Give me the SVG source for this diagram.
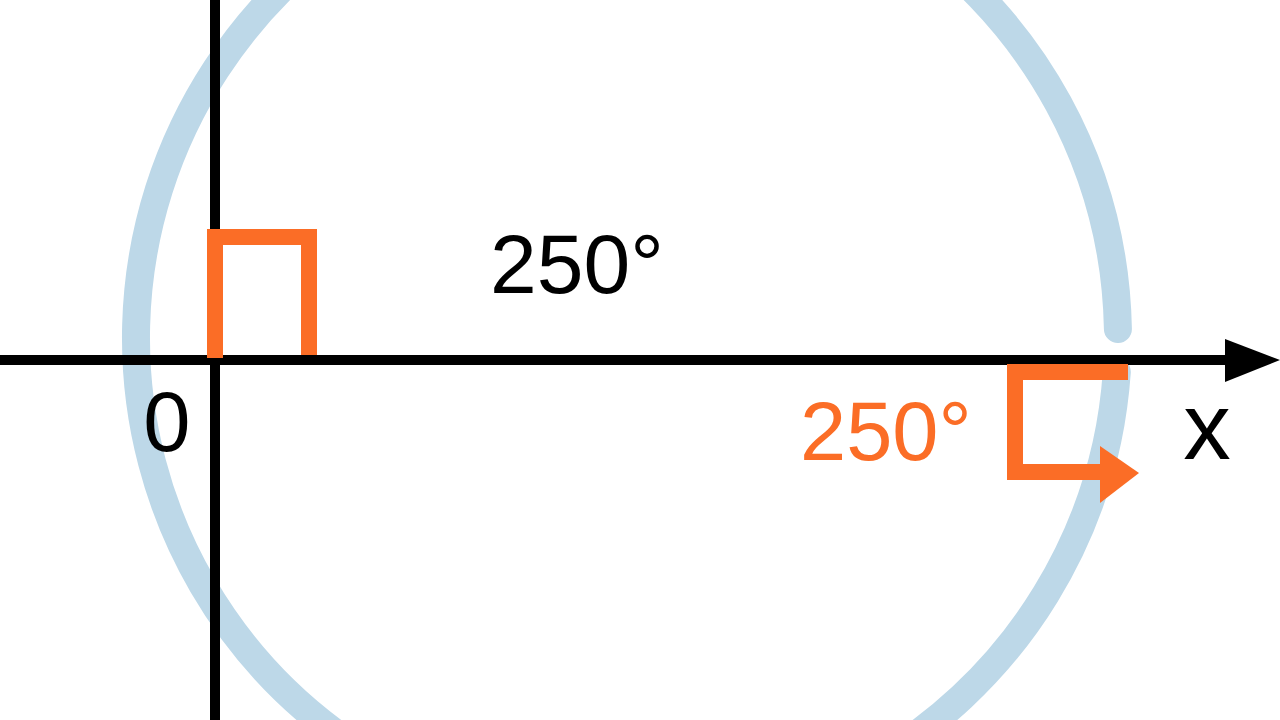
<svg xmlns="http://www.w3.org/2000/svg" width="1280" height="720" viewBox="0 0 1280 720">
  <style>
    .lbl { font-family: "Liberation Sans", Arial, sans-serif; }
    .ring { fill: none; stroke: #bdd8e8; stroke-width: 28; stroke-linecap: round; }
    .axis { fill: none; stroke: #000000; stroke-width: 10; }
    .mark { fill: none; stroke: #fb6d26; stroke-width: 16; stroke-linejoin: miter; }
  </style>
  <rect width="1280" height="720" fill="#ffffff"/>
  <g id="circle">
    <path class="ring" d="M1116.8,372 A491,491 0 1 1 1117.9,329"/>
  </g>
  <g id="connectors">
    <line class="axis" x1="215" y1="0" x2="215" y2="720"/>
    <line class="axis" x1="0" y1="360" x2="1228" y2="360"/>
    <polygon points="1225,339 1280,360 1225,382" fill="#000000"/>
  </g>
  <g id="angle-mark-origin">
    <path class="mark" d="M215,358 V237 H309 V355"/>
  </g>
  <g id="angle-mark-arrow">
    <path class="mark" d="M1128,372 H1015 V472 H1104"/>
    <polygon points="1100,446 1139,473 1100,503" fill="#fb6d26"/>
  </g>
  <g id="label-250">
    <text class="lbl" x="490" y="293" font-size="84" fill="#000000">250°</text>
  </g>
  <g id="label-250-orange">
    <text class="lbl" x="800" y="460" font-size="83" fill="#fb6d26">250°</text>
  </g>
  <g id="label-origin">
    <text class="lbl" x="167" y="451" font-size="85" fill="#000000" text-anchor="middle">0</text>
  </g>
  <g id="label-x">
    <text class="lbl" x="1207" y="459" font-size="95" fill="#000000" text-anchor="middle">x</text>
  </g>
</svg>
